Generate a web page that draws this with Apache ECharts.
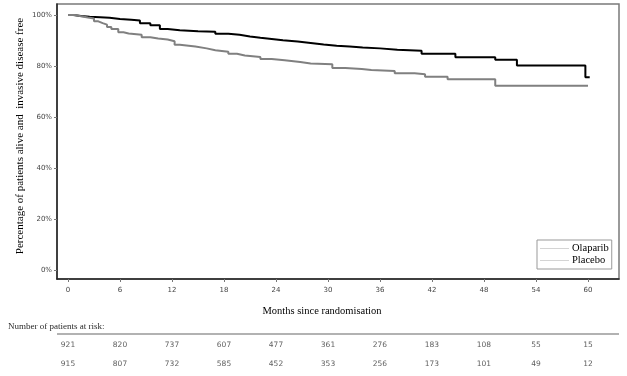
<!DOCTYPE html>
<html>
<head>
<meta charset="utf-8">
<script src="https://cdn.jsdelivr.net/npm/echarts@6/dist/echarts.min.js"></script>
<style>
  html, body { margin: 0; padding: 0; background: #fff; }
  #main { width: 627px; height: 376px; }
</style>
</head>
<body>
<div id="main"></div>
<script>
// Kaplan-Meier curves: [month, percent]
var olaparib = [
  [0, 100], [0.6, 99.6], [1.5, 99.3], [2.5, 99.1], [3.7, 98.9], [4.8, 98.4], [6, 98.1],
  [7.3, 97.8], [8.3, 96.8], [9.5, 96], [10.6, 94.5], [11.5, 94], [12.9, 93.6], [15, 93.4],
  [17, 92.6], [18.5, 92.2], [19.8, 91.6], [21, 91.1], [22.2, 90.6], [23.5, 90.1], [24.8, 89.6],
  [26.5, 89], [28, 88.4], [29.5, 87.9], [31, 87.6], [32.5, 87.2], [34, 86.9], [36, 86.4],
  [38, 86.0], [40.8, 84.8], [44.7, 83.4], [49.3, 82.4], [51.8, 80.2], [59.7, 75.6], [60.2, 75.6]
];
var placebo = [
  [0, 100], [0.8, 99.5], [1.5, 99], [2.3, 98.6], [3, 97.5], [3.5, 96.8], [4, 96.2], [4.5, 95.3],
  [5, 94.5], [5.8, 93.2], [6.4, 92.7], [7, 92.2], [8.5, 91.3], [9.5, 90.8], [10.4, 90.4],
  [11.5, 89.7], [12.3, 88.3], [12.9, 87.6], [14.7, 86.9], [16, 86.2], [17, 85.6], [18.5, 84.8],
  [19.5, 84.1], [20.4, 83.5], [22.2, 82.7], [23.5, 82.2], [25, 81.6], [26.8, 81], [28, 80.7],
  [30.5, 79.2], [32, 78.8], [33.9, 78.4], [35, 78], [37.7, 77.1], [40, 76.8], [41.2, 75.8],
  [43.8, 74.8], [49.3, 72.2], [60, 72.2]
];

var monthTicks = [0, 6, 12, 18, 24, 30, 36, 42, 48, 54, 60];
var pctTicks = [0, 20, 40, 60, 80, 100];
var riskOlaparib = [921, 820, 737, 607, 477, 361, 276, 183, 108, 55, 15];
var riskPlacebo = [915, 807, 732, 585, 452, 353, 256, 173, 101, 49, 12];

var riskData = [];
monthTicks.forEach(function (m, i) {
  riskData.push([m, 0.5, riskOlaparib[i]]);
  riskData.push([m, 1.5, riskPlacebo[i]]);
});

var xMin = -1.27, xMax = 63.58;
var smallFont = 'DejaVu Sans';
var serif = 'Liberation Serif';

var chart = echarts.init(document.getElementById('main'), null, { renderer: 'canvas' });
chart.setOption({
  animation: false,
  backgroundColor: '#fff',
  grid: [
    { left: 57, right: 8, top: 4, bottom: 97, show: true, borderColor: '#7a7a7a', borderWidth: 1.5 },
    { left: 57, right: 8, top: 336, height: 37 }
  ],
  xAxis: [
    {
      type: 'value', gridIndex: 0, min: xMin, max: xMax,
      axisLine: { show: true, onZero: false, lineStyle: { color: '#222', width: 1.5 } },
      axisTick: { show: true, length: 3, customValues: monthTicks, lineStyle: { color: '#777' } },
      axisLabel: { customValues: monthTicks, fontFamily: smallFont, fontSize: 7, color: '#444', margin: 8 },
      splitLine: { show: false }
    },
    {
      type: 'value', gridIndex: 1, min: xMin, max: xMax, show: false
    }
  ],
  yAxis: [
    {
      type: 'value', gridIndex: 0, min: -3.53, max: 104.3,
      axisLine: { show: true, onZero: false, lineStyle: { color: '#222', width: 1.5 } },
      axisTick: { show: true, length: 3, customValues: pctTicks, lineStyle: { color: '#777' } },
      axisLabel: { customValues: pctTicks, formatter: '{value}%', fontFamily: smallFont, fontSize: 7, color: '#444', margin: 5 },
      splitLine: { show: false }
    },
    {
      type: 'value', gridIndex: 1, min: 0, max: 2, inverse: true, show: false
    }
  ],
  legend: {
    orient: 'vertical', left: 537, top: 240, padding: [3, 3, 3, 3], itemGap: 1,
    itemWidth: 29, itemHeight: 1, icon: 'rect',
    borderColor: '#999', borderWidth: 1, backgroundColor: '#fff',
    textStyle: { fontFamily: serif, fontSize: 10.5, color: '#000', padding: [0, 0, 0, -2] },
    data: [
      { name: 'Olaparib', itemStyle: { color: '#d4d4d4' } },
      { name: 'Placebo', itemStyle: { color: '#d4d4d4' } }
    ]
  },
  series: [
    {
      name: 'Olaparib', type: 'line', step: 'end', data: olaparib, xAxisIndex: 0, yAxisIndex: 0,
      showSymbol: false, lineStyle: { color: '#000', width: 2 }, itemStyle: { color: '#000' }
    },
    {
      name: 'Placebo', type: 'line', step: 'end', data: placebo, xAxisIndex: 0, yAxisIndex: 0,
      showSymbol: false, lineStyle: { color: '#808080', width: 2 }, itemStyle: { color: '#808080' }
    },
    {
      name: 'risk', type: 'scatter', xAxisIndex: 1, yAxisIndex: 1, data: riskData,
      symbolSize: 0, silent: true,
      label: {
        show: true, position: 'inside', fontFamily: smallFont, fontSize: 7.5, color: '#333',
        formatter: function (p) { return p.value[2]; }
      }
    }
  ],
  graphic: [
    {
      type: 'text', x: 20, y: 136, rotation: Math.PI / 2,
      style: {
        text: 'Percentage of patients alive and  invasive disease free',
        fontFamily: serif, fontSize: 11, fill: '#000', align: 'center', verticalAlign: 'middle'
      }
    },
    {
      type: 'text', x: 322, y: 311,
      style: {
        text: 'Months since randomisation', fontFamily: serif, fontSize: 10.5, fill: '#000',
        align: 'center', verticalAlign: 'middle'
      }
    },
    {
      type: 'text', x: 8, y: 327,
      style: {
        text: 'Number of patients at risk:', fontFamily: serif, fontSize: 9, fill: '#2a2a2a',
        align: 'left', verticalAlign: 'middle'
      }
    },
    {
      type: 'line', shape: { x1: 57, y1: 334, x2: 619, y2: 334 },
      style: { stroke: '#999', lineWidth: 1.5 }
    }
  ]
});
</script>
</body>
</html>
